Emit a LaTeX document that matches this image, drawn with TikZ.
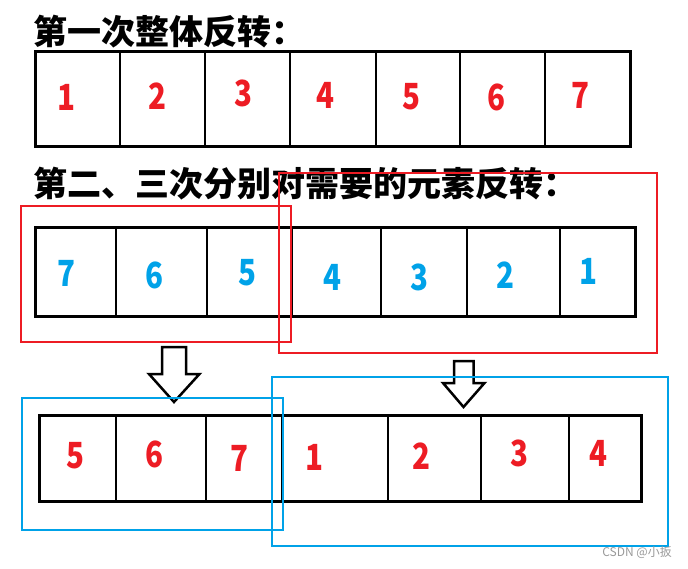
\documentclass[tikz,border=0pt]{standalone}
\usepackage{fontspec}
\newfontfamily\cjk{Noto Sans CJK SC}
\newfontfamily\digitfont[FakeStretch=0.82]{Noto Sans CJK SC}
\definecolor{myred}{RGB}{237,28,36}
\definecolor{myblue}{RGB}{0,162,232}
\tikzset{
  frame/.style={draw=black, line width=3pt},
  divider/.style={draw=black, line width=2pt},
  redbox/.style={draw=myred, line width=2.5pt},
  bluebox/.style={draw=myblue, line width=2.5pt},
  title/.style={anchor=west, inner sep=0pt, font=\cjk\bfseries\fontsize{34}{40}\selectfont},
  num/.style={inner sep=0pt, font=\digitfont\bfseries\fontsize{36}{40}\selectfont},
  rednum/.style={num, text=myred},
  bluenum/.style={num, text=myblue},
  bigarrow/.style={draw=black, line width=2.5pt, fill=white, line join=miter}
}
\begin{document}
\begin{tikzpicture}[x=1pt,y=-1pt]
\useasboundingbox (0,0) rectangle (688,569);

% titles
\node[title] (t1) at (33,32) {第一次整体反转：};
\node[title] (t2) at (33,184) {第二、三次分别对需要的元素反转：};

% row 1
\foreach \x in {120,205,290,376,460,545} \draw[divider] (\x,52) -- (\x,147);
\draw[frame] (35,52) rectangle (630,147);
\node[rednum] (a1) at (66.5,97) {1};
\node[rednum] (a2) at (157.5,96) {2};
\node[rednum] (a3) at (243,93.5) {3};
\node[rednum] (a4) at (325,95) {4};
\node[rednum] (a5) at (411,97) {5};
\node[rednum] (a6) at (496,97) {6};
\node[rednum] (a7) at (580,95) {7};

% row 2
\foreach \x in {116,207,292,380.5,467,559.5} \draw[divider] (\x,228) -- (\x,317);
\draw[frame] (35,228) rectangle (635,317);
\node[bluenum] (b1) at (66,273) {7};
\node[bluenum] (b2) at (154,275) {6};
\node[bluenum] (b3) at (247,273) {5};
\node[bluenum] (b4) at (332,277) {4};
\node[bluenum] (b5) at (419,277) {3};
\node[bluenum] (b6) at (505.5,275) {2};
\node[bluenum] (b7) at (588,271) {1};
\draw[redbox] (21,206) rectangle (291,342);
\draw[redbox] (279,173) rectangle (657,353);

% arrows
\draw[bigarrow] (162,347) -- (186,347) -- (186,374) -- (199.5,374) -- (174,402)
  -- (149,374) -- (162,374) -- cycle;
\draw[bigarrow] (454,361) -- (473.5,361) -- (473.5,383) -- (484.5,383) -- (463.5,407)
  -- (443,383) -- (454,383) -- cycle;

% row 3
\foreach \x in {116,206,281.5,388,481,569} \draw[divider] (\x,415) -- (\x,501);
\draw[frame] (39,415) rectangle (641,501);
\node[rednum] (c1) at (75.5,456) {5};
\node[rednum] (c2) at (154,454) {6};
\node[rednum] (c3) at (239,458) {7};
\node[rednum] (c4) at (314.5,457) {1};
\node[rednum] (c5) at (421,456) {2};
\node[rednum] (c6) at (519.5,453) {3};
\node[rednum] (c7) at (598.5,453) {4};
\draw[bluebox] (22,398) rectangle (283,530);
\draw[bluebox] (272,377) rectangle (668,546);

% watermark
\node[anchor=east, inner sep=0pt, text=black!40, font=\cjk\fontsize{12}{14}\selectfont] (wm) at (672,553) {CSDN @小扳};
\end{tikzpicture}
\end{document}
